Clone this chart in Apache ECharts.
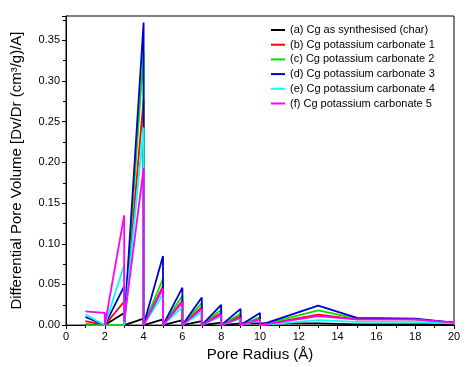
<!DOCTYPE html>
<html><head><meta charset="utf-8">
<script src="https://cdn.jsdelivr.net/npm/echarts@6/dist/echarts.min.js"></script>
<style>html,body{margin:0;padding:0;background:#fff}#c{width:474px;height:367px}</style>
</head><body><div id="c"></div>
<script>
// Pore radius positions (duplicates = vertical drops)
const radius = [1, 2, 2, 3, 3, 4, 4, 5, 5, 6, 6, 7, 7, 8, 8, 9, 9, 10, 10, 13, 15, 18, 20];
const seriesNames = [
  '(a) Cg as synthesised (char)',
  '(b) Cg potassium carbonate 1',
  '(c) Cg potassium carbonate 2',
  '(d) Cg potassium carbonate 3',
  '(e) Cg potassium carbonate 4',
  '(f) Cg potassium carbonate 5'
];
const charA = [0.001, 0, 0, 0.015, 0, 0.008, 0, 0.007, 0, 0.006, 0, 0.005, 0, 0.003, 0, 0.002, 0, 0.002, 0, 0.002, 0.001, 0.001, 0.001];
const k2co3_1 = [0.005, 0, 0, 0.029, 0, 0.278, 0, 0.048, 0, 0.030, 0, 0.022, 0, 0.015, 0, 0.011, 0, 0.008, 0, 0.013, 0.007, 0.007, 0.002];
const k2co3_2 = [0.000, 0, 0, 0.000, 0, 0.335, 0, 0.057, 0, 0.036, 0, 0.027, 0, 0.019, 0, 0.014, 0, 0.010, 0, 0.018, 0.008, 0.007, 0.003];
const k2co3_3 = [0.010, 0, 0, 0.048, 0, 0.372, 0, 0.085, 0, 0.046, 0, 0.034, 0, 0.025, 0, 0.020, 0, 0.015, 0, 0.024, 0.009, 0.008, 0.003];
const k2co3_4 = [0.013, 0, 0, 0.074, 0, 0.243, 0, 0.038, 0, 0.022, 0, 0.016, 0, 0.011, 0, 0.008, 0, 0.006, 0, 0.006, 0.004, 0.004, 0.002];
const k2co3_5 = [0.017, 0.015, 0, 0.135, 0.004, 0.193, 0, 0.045, 0, 0.028, 0, 0.020, 0, 0.013, 0, 0.009, 0, 0.007, 0, 0.011, 0.007, 0.007, 0.003];
const allValues = [charA, k2co3_1, k2co3_2, k2co3_3, k2co3_4, k2co3_5];
const colors = ['#000000', '#ff0000', '#00e000', '#0000cc', '#00ffff', '#ff00ff'];
const xTicks = [0, 2, 4, 6, 8, 10, 12, 14, 16, 18, 20];

const font = 'Liberation Sans, Arial, sans-serif';
const chart = echarts.init(document.getElementById('c'), null, {renderer: 'canvas'});
chart.setOption({
  animation: false,
  backgroundColor: '#fff',
  grid: {left: 66, right: 20, top: 16, bottom: 40, show: true, borderColor: '#000', borderWidth: 1},
  legend: {
    orient: 'vertical', left: 266, top: 18.5,
    icon: 'rect', itemWidth: 14, itemHeight: 2, itemGap: 1.7,
    textStyle: {fontFamily: font, fontSize: 11, color: '#000', lineHeight: 13},
    data: seriesNames
  },
  xAxis: {
    type: 'value', min: 0, max: 20, interval: 2,
    name: 'Pore Radius (Å)', nameLocation: 'middle', nameGap: 21,
    nameTextStyle: {fontFamily: font, fontSize: 15, color: '#000'},
    axisLine: {show: true, onZero: false, lineStyle: {color: '#000', width: 1}},
    axisTick: {show: true, inside: false, length: 4, lineStyle: {color: '#000'}},
    minorTick: {show: true, splitNumber: 2, length: 3, lineStyle: {color: '#000'}},
    axisLabel: {fontFamily: font, fontSize: 11, color: '#000', margin: 6,
      formatter: v => xTicks.includes(v) ? String(v) : ''},
    splitLine: {show: false}
  },
  yAxis: {
    type: 'value', min: 0, max: 0.38, interval: 0.05,
    name: 'Differential Pore Volume [Dv/Dr (cm³/g)/A]', nameLocation: 'middle', nameGap: 42,
    nameTextStyle: {fontFamily: font, fontSize: 15, color: '#000'},
    axisLine: {show: true, lineStyle: {color: '#000', width: 1}},
    axisTick: {show: true, inside: false, length: 4, lineStyle: {color: '#000'}},
    minorTick: {show: true, splitNumber: 2, length: 3, lineStyle: {color: '#000'}},
    axisLabel: {fontFamily: font, fontSize: 11, color: '#000', margin: 6, showMaxLabel: false,
      formatter: v => v.toFixed(2)},
    splitLine: {show: false}
  },
  series: allValues.map((vals, i) => ({
    name: seriesNames[i], type: 'line', symbol: 'none',
    color: colors[i],
    lineStyle: {width: 1.8, color: colors[i]},
    data: radius.map((r, j) => [r, vals[j]]),
    z: 2 + i
  }))
});
</script></body></html>
